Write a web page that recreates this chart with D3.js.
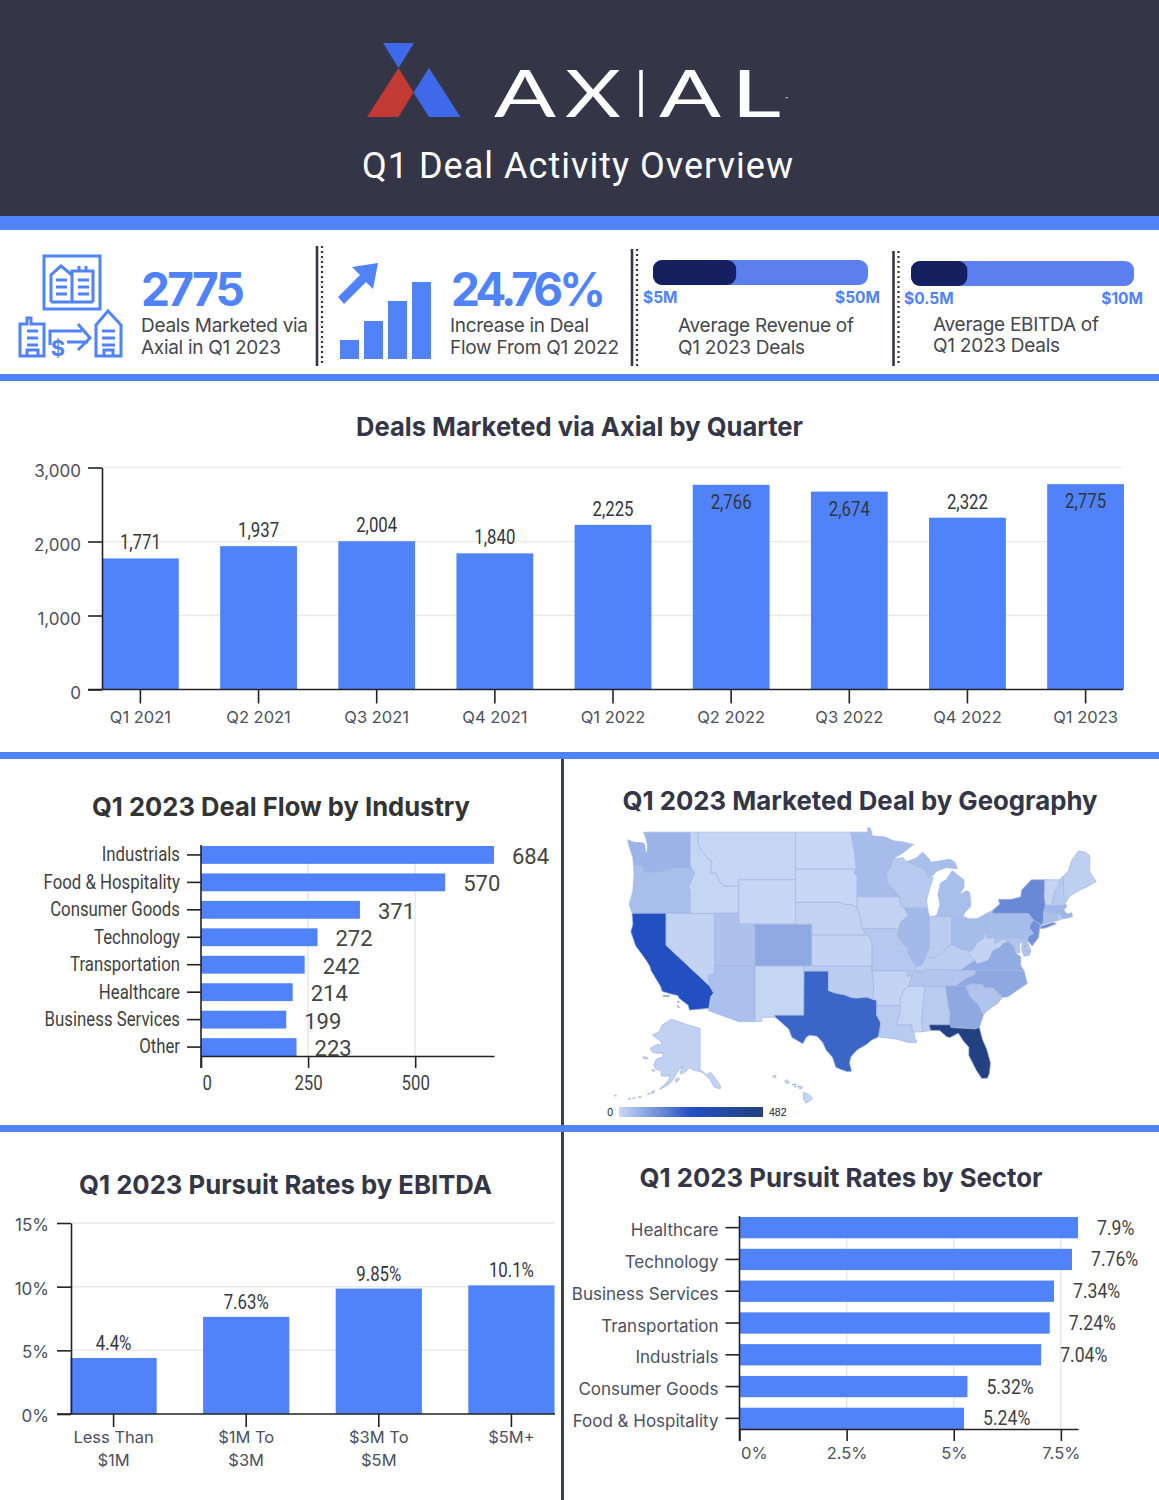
<!DOCTYPE html>
<html>
<head>
<meta charset="utf-8">
<title>Axial Q1 Deal Activity Overview</title>
<script src="https://cdn.jsdelivr.net/npm/d3@7"></script>
<style>
  body { margin: 0; background: #fff; }
  svg { display: block; }
  text { font-family: Inter, sans-serif; }
</style>
</head>
<body>
<script>
// chart values
var quarters = ['Q1 2021', 'Q2 2021', 'Q3 2021', 'Q4 2021', 'Q1 2022', 'Q2 2022', 'Q3 2022', 'Q4 2022', 'Q1 2023'];
var quarterDeals = [1771, 1937, 2004, 1840, 2225, 2766, 2674, 2322, 2775];
var quarterTicks = [0, 1000, 2000, 3000];

var industries = ['Industrials', 'Food & Hospitality', 'Consumer Goods', 'Technology', 'Transportation', 'Healthcare', 'Business Services', 'Other'];
var industryDeals = [684, 570, 371, 272, 242, 214, 199, 223];
var industryTicks = [0, 250, 500];

var ebitdaBands = ['Less Than|$1M', '$1M To|$3M', '$3M To|$5M', '$5M+'];
var ebitdaRates = [4.4, 7.63, 9.85, 10.1];
var ebitdaTicks = [0, 5, 10, 15];

var sectors = ['Healthcare', 'Technology', 'Business Services', 'Transportation', 'Industrials', 'Consumer Goods', 'Food & Hospitality'];
var sectorRates = [7.9, 7.76, 7.34, 7.24, 7.04, 5.32, 5.24];
var sectorTicks = [0, 2.5, 5, 7.5];

var revenueRange = [5, 50], revenueAvg = 22.4;
var ebitdaRange = [0.5, 10], ebitdaAvg = 2.9;

var stateCodes = ['AK','HI','WA','OR','CA','NV','ID','MT','WY','UT','CO','AZ','NM','TX','OK','KS','NE','SD','ND','MN','IA','MO','AR','LA','MS','AL','TN','KY','IL','IN','OH','MI','WI','WV','VA','NC','SC','GA','FL','PA','NY','NJ','DE','MD','CT','RI','MA','VT','NH','ME'];
var stateDeals = [12,5,64,45,241,8,5,4,3,40,83,42,5,204,20,8,10,3,3,50,10,28,8,22,5,22,30,18,55,20,50,45,25,8,80,85,35,85,482,50,140,125,30,35,45,25,60,6,25,15];
var mapLegend = [0, 241, 482];

// simplified state outlines, [lon, lat]
var stateShapes = {
  WA: [[[-122.76,49],[-117.03,49],[-117.04,46.42],[-116.92,45.995],[-118.98,46],[-119.3,45.93],[-120.5,45.7],[-121.2,45.65],[-122.2,45.58],[-122.7,45.65],[-122.9,46.1],[-123.4,46.25],[-124,46.27],[-124.1,46.9],[-124.6,47.9],[-124.73,48.38],[-123.9,48.17],[-123.1,48.15],[-122.75,48.1],[-122.6,47.9],[-122.55,47.3],[-122.35,47.4],[-122.3,47.9],[-122.5,48.5]]],
  OR: [[[-124,46.27],[-123.4,46.25],[-122.9,46.1],[-122.7,45.65],[-122.2,45.58],[-121.2,45.65],[-120.5,45.7],[-119.3,45.93],[-118.98,46],[-116.92,45.995],[-116.47,45.6],[-116.85,44.95],[-117.22,44.4],[-117.03,44],[-117.03,42],[-124.2,42],[-124.55,42.85],[-124.1,44],[-123.95,45.5]]],
  CA: [[[-124.2,42],[-120,42],[-120,39],[-114.63,35],[-114.13,34.3],[-114.5,33.9],[-114.72,32.72],[-117.12,32.53],[-117.3,33.05],[-118.4,33.75],[-118.55,34.03],[-119.2,34.15],[-120.5,34.45],[-120.65,34.9],[-121.9,36.6],[-122,36.95],[-122.5,37.6],[-122.95,38.1],[-123.75,38.95],[-124.35,40.3],[-124.1,41]],
    [[-120.4,34.05],[-119.6,34.05],[-119.6,33.93],[-120.3,33.93]], [[-118.6,33.48],[-118.35,33.4],[-118.5,33.3]], [[-118.6,33.05],[-118.35,32.8],[-118.5,32.8]]],
  NV: [[[-120,42],[-114.04,42],[-114.04,36.2],[-114.75,36.1],[-114.63,35],[-120,39]]],
  ID: [[[-117.03,49],[-116.05,49],[-116.05,48],[-115.7,47.5],[-114.7,46.7],[-114.35,46.65],[-114.5,45.55],[-113.9,45.65],[-113.45,44.95],[-113,44.45],[-111.05,44.48],[-111.05,42],[-117.03,42],[-117.03,44],[-117.22,44.4],[-116.85,44.95],[-116.47,45.6],[-116.92,45.995],[-117.04,46.42]]],
  MT: [[[-116.05,49],[-104.05,49],[-104.05,45],[-111.05,45],[-111.05,44.48],[-113,44.45],[-113.45,44.95],[-113.9,45.65],[-114.5,45.55],[-114.35,46.65],[-114.7,46.7],[-115.7,47.5],[-116.05,48]]],
  WY: [[[-111.05,45],[-104.05,45],[-104.05,41],[-111.05,41]]],
  UT: [[[-114.04,42],[-111.05,42],[-111.05,41],[-109.05,41],[-109.05,37],[-114.04,37]]],
  CO: [[[-109.05,41],[-102.05,41],[-102.05,37],[-109.05,37]]],
  AZ: [[[-114.04,37],[-109.05,37],[-109.05,31.33],[-111.07,31.33],[-114.81,32.5],[-114.72,32.72],[-114.5,33.9],[-114.13,34.3],[-114.63,35],[-114.75,36.1],[-114.04,36.2]]],
  NM: [[[-109.05,37],[-103,37],[-103.04,32],[-106.62,32],[-106.53,31.78],[-108.21,31.78],[-108.21,31.33],[-109.05,31.33]]],
  TX: [[[-106.62,32],[-103.04,32],[-103,36.5],[-100,36.5],[-100,34.56],[-99.2,34.3],[-98.1,34.13],[-97.2,33.85],[-96.5,33.78],[-95.3,33.88],[-94.48,33.64],[-94.04,33.55],[-94.04,33.02],[-94.04,32],[-93.55,31.2],[-93.7,30.3],[-93.84,29.7],[-94.7,29.35],[-95.3,28.9],[-96.4,28.35],[-97.2,27.6],[-97.4,26.9],[-97.15,25.96],[-97.6,25.9],[-98.3,26.1],[-99.1,26.4],[-99.5,27.5],[-100.3,28.3],[-100.7,29.1],[-101.4,29.77],[-102.3,29.88],[-102.7,29.7],[-103.15,28.98],[-104.5,29.65],[-104.9,30.55],[-106.53,31.78]]],
  OK: [[[-103,37],[-94.62,37],[-94.62,36.5],[-94.43,35.39],[-94.48,33.64],[-95.3,33.88],[-96.5,33.78],[-97.2,33.85],[-98.1,34.13],[-99.2,34.3],[-100,34.56],[-100,36.5],[-103,36.5]]],
  KS: [[[-102.05,40],[-95.3,40],[-94.9,39.8],[-94.61,39.1],[-94.62,37],[-102.05,37]]],
  NE: [[[-104.05,43],[-98.5,43],[-97.9,42.8],[-97.2,42.85],[-96.45,42.49],[-96.1,41.7],[-95.85,40.7],[-95.77,40.58],[-95.3,40],[-102.05,40],[-102.05,41],[-104.05,41]]],
  SD: [[[-104.05,45.94],[-96.56,45.94],[-96.85,45.6],[-96.45,45.3],[-96.45,43.5],[-96.45,42.49],[-97.2,42.85],[-97.9,42.8],[-98.5,43],[-104.05,43]]],
  ND: [[[-104.05,49],[-97.23,49],[-96.85,47.6],[-96.56,45.94],[-104.05,45.94]]],
  MN: [[[-97.23,49],[-95.15,49],[-95.15,49.38],[-94.8,49.3],[-94.6,48.7],[-93,48.6],[-92,48.3],[-90.8,48.2],[-89.5,48],[-90.8,47.3],[-92.1,46.75],[-92.3,46.1],[-92.85,45.6],[-92.75,44.75],[-91.2,43.5],[-96.45,43.5],[-96.45,45.3],[-96.85,45.6],[-96.56,45.94],[-96.85,47.6]]],
  IA: [[[-96.45,43.5],[-91.2,43.5],[-91.1,42.7],[-90.65,42.5],[-90.15,41.8],[-91.1,41.2],[-91.42,40.38],[-91.75,40.6],[-95.77,40.58],[-95.85,40.7],[-96.1,41.7],[-96.45,42.49]]],
  MO: [[[-95.77,40.58],[-91.75,40.6],[-91.42,40.38],[-91.5,40],[-90.7,39],[-90.15,38.75],[-90.2,38.3],[-89.5,37.3],[-89.15,36.98],[-89.4,36.5],[-89.7,36],[-90.37,36],[-90.1,36.5],[-94.62,36.5],[-94.62,37],[-94.61,39.1],[-94.9,39.8],[-95.3,40]]],
  AR: [[[-94.62,36.5],[-90.1,36.5],[-90.37,36],[-89.7,36],[-90.1,35],[-90.6,34.7],[-91.1,33.8],[-91.17,33],[-94.04,33.02],[-94.04,33.55],[-94.48,33.64],[-94.43,35.39]]],
  LA: [[[-94.04,33.02],[-91.17,33],[-91.1,32.5],[-91.6,31],[-89.73,31],[-89.6,30.2],[-89.4,30.05],[-89.4,29.8],[-89.1,29.1],[-90.2,29.1],[-91.3,29.4],[-92.2,29.55],[-93.84,29.7],[-93.7,30.3],[-93.55,31.2],[-94.04,32]]],
  MS: [[[-90.1,35],[-88.2,35],[-88.1,34.9],[-88.47,31.9],[-88.4,30.25],[-89.6,30.2],[-89.73,31],[-91.6,31],[-91.1,32.5],[-91.17,33],[-91.1,33.8],[-90.6,34.7]]],
  AL: [[[-88.2,35],[-85.6,35],[-85.18,32.87],[-85,32.3],[-85.05,31],[-87.6,31],[-87.4,30.4],[-88.4,30.25],[-88.47,31.9],[-88.1,34.9]]],
  TN: [[[-90.1,35],[-89.7,36],[-89.4,36.5],[-88.05,36.5],[-88.07,36.68],[-83.68,36.6],[-81.68,36.59],[-82,36.1],[-83.1,35.75],[-84.3,35],[-85.6,35],[-88.2,35]]],
  KY: [[[-89.4,36.5],[-89.15,36.98],[-88.5,37.1],[-88.05,37.8],[-87.1,37.8],[-86.3,38.1],[-85.45,38.7],[-84.8,39.1],[-84.3,38.9],[-83.7,38.65],[-82.6,38.45],[-82.6,38.1],[-81.97,37.54],[-83.68,36.6],[-88.07,36.68],[-88.05,36.5]]],
  IL: [[[-90.65,42.5],[-87.8,42.5],[-87.55,41.7],[-87.53,39.35],[-87.6,38.7],[-88.05,37.8],[-88.5,37.1],[-89.15,36.98],[-89.5,37.3],[-90.2,38.3],[-90.15,38.75],[-90.7,39],[-91.5,40],[-91.42,40.38],[-91.1,41.2],[-90.15,41.8]]],
  WI: [[[-92.1,46.75],[-90.8,46.9],[-90.4,46.55],[-88.1,45.9],[-87.6,45.1],[-87.05,45.25],[-87.5,44.3],[-87.9,43.2],[-87.8,42.5],[-90.65,42.5],[-91.1,42.7],[-91.2,43.5],[-92.75,44.75],[-92.85,45.6],[-92.3,46.1]]],
  MI: [[[-90.4,46.55],[-89.2,46.85],[-88.4,47.35],[-87.6,46.8],[-87.4,46.5],[-85,46.75],[-84.4,46.5],[-84.1,45.95],[-85.5,46.05],[-86.6,45.75],[-87.6,45.1],[-88.1,45.9]],
    [[-86.8,41.76],[-84.8,41.73],[-83.45,41.73],[-83.15,42.1],[-82.5,42.6],[-82.45,43],[-82.6,43.9],[-83,44.05],[-83.9,43.65],[-83.3,44.3],[-83.3,45],[-84.75,45.78],[-85.5,45],[-86.2,44.7],[-86.5,43.7],[-86.25,42.8],[-86.6,41.95]]],
  IN: [[[-87.53,41.72],[-86.8,41.76],[-84.8,41.73],[-84.8,39.1],[-85.45,38.7],[-86.3,38.1],[-87.1,37.8],[-88.05,37.8],[-87.6,38.7],[-87.53,39.35]]],
  OH: [[[-84.8,41.73],[-83.45,41.73],[-82.7,41.5],[-81.7,41.5],[-80.52,41.98],[-80.52,40.64],[-80.85,39.7],[-81.7,39.2],[-82.2,38.6],[-82.6,38.45],[-83.7,38.65],[-84.3,38.9],[-84.8,39.1]]],
  WV: [[[-82.6,38.1],[-82.6,38.45],[-82.2,38.6],[-81.7,39.2],[-80.85,39.7],[-80.52,40.64],[-80.52,39.72],[-79.48,39.72],[-79.48,39.2],[-78.4,39.62],[-77.75,39.32],[-78.35,39.25],[-78.9,38.8],[-79.65,38.55],[-80.3,37.55],[-81.68,37.2],[-81.97,37.54]]],
  VA: [[[-83.68,36.6],[-75.9,36.55],[-76.3,37],[-76.3,37.9],[-77,38.3],[-77.05,38.85],[-77.5,39.15],[-77.75,39.32],[-78.35,39.25],[-78.9,38.8],[-79.65,38.55],[-80.3,37.55],[-81.68,37.2],[-81.97,37.54]]],
  NC: [[[-84.3,35],[-83.1,35.75],[-82,36.1],[-81.68,36.59],[-75.9,36.55],[-75.5,35.25],[-76.5,34.7],[-77.9,33.9],[-78.55,33.86],[-79.7,34.8],[-80.8,34.82],[-81.05,35.15],[-82.3,35.2],[-83.1,35]]],
  SC: [[[-83.1,35],[-82.3,35.2],[-81.05,35.15],[-80.8,34.82],[-79.7,34.8],[-78.55,33.86],[-79.2,33.2],[-80.4,32.5],[-80.9,32.05],[-81.5,33],[-82.6,34]]],
  GA: [[[-85.6,35],[-84.3,35],[-83.1,35],[-82.6,34],[-81.5,33],[-80.9,32.05],[-81.4,30.7],[-82,30.55],[-82.2,30.57],[-84.86,30.7],[-85.05,31],[-85,32.3],[-85.18,32.87]]],
  FL: [[[-87.6,31],[-85.05,31],[-84.86,30.7],[-82.2,30.57],[-82,30.55],[-81.4,30.7],[-81,29.4],[-80.5,28.4],[-80.03,26.9],[-80.15,25.75],[-80.4,25.2],[-81.1,25.15],[-81.8,26.1],[-82.7,27.7],[-82.7,28.6],[-83.4,29.3],[-84,30.1],[-85,29.65],[-85.4,29.7],[-86.3,30.4],[-87.4,30.4]]],
  PA: [[[-80.52,41.98],[-79.76,42.27],[-79.76,42],[-75.35,42],[-74.7,41.36],[-75.1,40.95],[-75.2,40.65],[-74.72,40.15],[-75.4,39.8],[-75.79,39.72],[-79.48,39.72],[-80.52,39.72]]],
  NY: [[[-79.76,42.27],[-78.9,42.85],[-79.05,43.27],[-77.5,43.27],[-76.3,43.5],[-76.2,44.1],[-75,45],[-73.35,45],[-73.35,44.2],[-73.4,43.6],[-73.27,42.75],[-73.5,42.05],[-73.5,41.3],[-73.66,41],[-74,40.75],[-73.9,41],[-74.7,41.36],[-75.35,42],[-79.76,42]],
    [[-74,40.6],[-73.75,40.85],[-72.3,41.15],[-71.9,41.05],[-73.3,40.63]]],
  NJ: [[[-74.7,41.36],[-73.9,41],[-74,40.45],[-74.1,39.75],[-74.9,38.95],[-75.5,39.5],[-75.4,39.8],[-74.72,40.15],[-75.2,40.65],[-75.1,40.95]]],
  DE: [[[-75.79,39.72],[-75.4,39.8],[-75.5,39.4],[-75.05,38.45],[-75.7,38.46]]],
  MD: [[[-79.48,39.72],[-75.79,39.72],[-75.7,38.46],[-75.05,38.45],[-75.25,38.03],[-75.9,37.95],[-76.2,38.6],[-76.1,39.4],[-76.5,39.1],[-76.4,38.3],[-77,38.3],[-77.05,38.85],[-77.5,39.15],[-77.75,39.32],[-78.4,39.62],[-79.48,39.2]]],
  CT: [[[-73.5,42.05],[-71.8,42.02],[-71.85,41.32],[-73.66,41],[-73.5,41.3]]],
  RI: [[[-71.8,42.02],[-71.38,42.02],[-71.15,41.5],[-71.85,41.32]]],
  MA: [[[-73.5,42.05],[-73.27,42.75],[-72.45,42.73],[-71.3,42.7],[-70.85,42.87],[-70.6,42.65],[-71,42.3],[-70.6,41.95],[-70,42.05],[-69.95,41.7],[-70.65,41.55],[-71.15,41.5],[-71.38,42.02],[-71.8,42.02]]],
  VT: [[[-73.35,45],[-71.5,45],[-71.55,44.5],[-72.05,44.1],[-72.45,42.73],[-73.27,42.75],[-73.4,43.6],[-73.35,44.2]]],
  NH: [[[-71.5,45],[-71.08,45.3],[-70.98,43.4],[-70.7,43.08],[-70.85,42.87],[-71.3,42.7],[-72.45,42.73],[-72.05,44.1],[-71.55,44.5]]],
  ME: [[[-71.08,45.3],[-70.4,45.8],[-70.25,46.2],[-70,46.7],[-69.2,47.45],[-68.3,47.35],[-67.8,47.05],[-67.8,45.7],[-67.45,45.3],[-67,44.85],[-68.2,44.35],[-69,44.1],[-70.2,43.6],[-70.7,43.08],[-70.98,43.4]]],
  AK: [[[-141,69.65],[-141,60.3],[-139.5,59.9],[-137.5,58.9],[-135.5,59.7],[-133.8,58.7],[-130,55.9],[-130,54.9],[-131.5,55],[-133.5,55.5],[-135.5,57.5],[-137,58.4],[-139.7,59.6],[-142,60],[-144.5,60.2],[-146.5,60.9],[-148.5,60],[-150.5,59.3],[-151.8,59.3],[-151,60.8],[-150,61.2],[-152,60.7],[-153.5,59.5],[-154.5,58.5],[-156.5,57],[-158.5,56],[-161,55.2],[-163,54.7],[-160.5,56],[-158,57.5],[-157.2,58.7],[-159,58.6],[-162,58.7],[-162,60],[-165,60.6],[-166,61.7],[-165,62.8],[-164,63.2],[-161,63.6],[-161,64.5],[-164,64.5],[-166.5,64.6],[-168,65.6],[-164,66.5],[-162,66.2],[-162,67],[-164,67.6],[-166.7,68.4],[-163,69.1],[-161.5,70.3],[-156.6,71.35],[-152,70.85],[-148,70.4],[-144,70]],
    [[-154.6,57.5],[-152.5,58.2],[-152.2,57.6],[-153.8,56.8]], [[-171.8,63.7],[-169,63.4],[-169.8,63],[-171.6,63.3]], [[-167,60.4],[-165.2,60.3],[-165.8,59.9],[-167,60.1]],
    [[-166.9,54],[-165.5,54.3],[-166,53.6],[-167.5,53.3]], [[-169.6,53],[-168,53.6],[-168.2,53.2]], [[-174.5,52.2],[-172.8,52.4],[-173,52]], [[-177.5,51.9],[-176,52],[-176.2,51.7]], [[-180,51.6],[-178.5,51.9],[-178.7,51.5]], [[-186,52.6],[-187.5,52.9],[-187,52.5]]],
  HI: [[[-155.9,20.25],[-155.1,19.85],[-154.8,19.5],[-155.6,18.95],[-155.95,19.4]], [[-156.7,20.95],[-156.25,20.95],[-156,20.75],[-156.4,20.6]], [[-158.25,21.55],[-157.95,21.7],[-157.65,21.3],[-158.1,21.3]], [[-159.75,22.1],[-159.4,22.2],[-159.3,21.95],[-159.6,21.9]], [[-157.3,21.2],[-156.75,21.15],[-156.9,21.05],[-157.3,21.08]], [[-157.05,20.9],[-156.85,20.9],[-156.9,20.75]]]
};

var blue = '#5082f9',
  slate = '#343648',
  inkGrey = '#4c5060',
  gridGrey = '#e9e9ec';

var svg = d3.select('body').append('svg').attr('width', 1159).attr('height', 1500);

function put(g, x, y, s, size, fill, anchor, weight) {
  return g.append('text').attr('x', x).attr('y', y).text(s)
    .style('font-size', size + 'px').attr('fill', fill)
    .attr('text-anchor', anchor || 'start').style('font-weight', weight || 400);
}

// roboto squeezed horizontally, the source uses a condensed cut
function narrow(g, x, y, s, size, fill, anchor) {
  return g.append('text').attr('transform', 'translate(' + x + ',' + y + ') scale(0.84,1)').text(s)
    .style('font-family', 'Roboto').style('font-size', size + 'px').attr('fill', fill)
    .attr('text-anchor', anchor || 'middle');
}

function title(x, y, s, width, fill) {
  return put(svg, x, y, s, 26, fill || slate, 'middle', 700)
    .attr('textLength', width).attr('lengthAdjust', 'spacingAndGlyphs');
}

function styleAxis(g) {
  g.select('.domain').attr('stroke', '#222').attr('stroke-width', 1.6);
  g.selectAll('.tick line').attr('stroke', '#222').attr('stroke-width', 1.6);
  g.selectAll('.tick text').style('font-family', 'Inter').attr('fill', inkGrey);
}

// page bands
svg.append('rect').attr('width', 1159).attr('height', 216).attr('fill', slate);
[[216, 14], [374, 7], [752, 7], [1125, 7]].forEach(function (b) {
  svg.append('rect').attr('y', b[0]).attr('width', 1159).attr('height', b[1]).attr('fill', blue);
});
svg.append('rect').attr('x', 561).attr('y', 759).attr('width', 3).attr('height', 366).attr('fill', '#3b4050');
svg.append('rect').attr('x', 561).attr('y', 1132).attr('width', 3).attr('height', 368).attr('fill', '#3b4050');

// logo
var logo = svg.append('g');
logo.append('polygon').attr('points', '383,43 414,43 398.5,68').attr('fill', '#3e69ea');
logo.append('polygon').attr('points', '398.5,68 413.5,92.5 398.5,117 367,117').attr('fill', '#c23a33');
logo.append('polygon').attr('points', '429,68 460.5,117 429,117 413.5,92.5').attr('fill', '#3e69ea');
[['A', 494, 62], ['X', 565, 56], ['I', 636, 10], ['A', 659, 62], ['L', 731, 50]].forEach(function (l) {
  logo.append('text').attr('x', l[1]).attr('y', 117).text(l[0])
    .style('font-family', 'Lato').style('font-size', '66px').attr('fill', '#fff')
    .attr('textLength', l[2]).attr('lengthAdjust', 'spacingAndGlyphs');
});
put(logo, 785, 101, '™', 5, '#fff');
put(svg, 577.5, 178, 'Q1 Deal Activity Overview', 36, '#fff', 'middle', 400)
  .style('font-family', 'Roboto').attr('textLength', 431).attr('lengthAdjust', 'spacing');

// kpi strip
var kpi = svg.append('g');
function divider(x, y0, y1) {
  kpi.append('line').attr('x1', x).attr('x2', x).attr('y1', y0).attr('y2', y1).attr('stroke', '#343648').attr('stroke-width', 2.6);
  kpi.append('line').attr('x1', x + 5).attr('x2', x + 5).attr('y1', y0).attr('y2', y1)
    .attr('stroke', '#343648').attr('stroke-width', 2.2).attr('stroke-dasharray', '2 3');
}
divider(317, 246, 366);
divider(632, 249, 366);
divider(893.5, 251, 366);

put(kpi, 141, 306, '2775', 46, blue, 'start', 700).attr('textLength', 104);
put(kpi, 141, 332, 'Deals Marketed via', 19, '#45464f').attr('textLength', 167);
put(kpi, 141, 354, 'Axial in Q1 2023', 19, '#45464f').attr('textLength', 140);
put(kpi, 451, 306, '24.76%', 46, blue, 'start', 700).attr('textLength', 155);
put(kpi, 450, 332, 'Increase in Deal', 19, '#45464f').attr('textLength', 139);
put(kpi, 450, 354, 'Flow From Q1 2022', 19, '#45464f').attr('textLength', 169);
put(kpi, 678, 332, 'Average Revenue of', 19, '#45464f').attr('textLength', 176);
put(kpi, 678, 354, 'Q1 2023 Deals', 19, '#45464f').attr('textLength', 127);
put(kpi, 933, 331, 'Average EBITDA of', 19, '#45464f').attr('textLength', 166);
put(kpi, 933, 352, 'Q1 2023 Deals', 19, '#45464f').attr('textLength', 127);

// range gauges
function gauge(x0, x1, y, range, value, lowLabel, highLabel, lowX, highX) {
  var scale = d3.scaleLinear().domain(range).range([x0, x1]);
  kpi.append('rect').attr('x', x0).attr('y', y).attr('width', x1 - x0).attr('height', 25).attr('rx', 9).attr('fill', '#5b7fee');
  kpi.append('rect').attr('x', x0).attr('y', y).attr('width', scale(value) - x0).attr('height', 25).attr('rx', 9).attr('fill', '#152060');
  put(kpi, lowX, y + 43, lowLabel, 15.5, blue, 'start', 700);
  put(kpi, highX, y + 43, highLabel, 15.5, blue, 'end', 700);
}
gauge(653, 868, 260, revenueRange, revenueAvg, '$5M', '$50M', 643, 880);
gauge(911, 1134, 261, ebitdaRange, ebitdaAvg, '$0.5M', '$10M', 904, 1143);

// deals icon
var icon = kpi.append('g').attr('fill', 'none').attr('stroke', blue).attr('stroke-width', 3);
icon.append('rect').attr('x', 44).attr('y', 256).attr('width', 56).attr('height', 53);
icon.append('path').attr('d', 'M51 302V275L61 266L72 275V302M72 302V271H79V266M79 271H86V266M86 271H93V302M51 302H93');
icon.append('path').attr('d', 'M56 280H67M56 287H67M56 294H67M78 280H89M78 287H89M78 294H89');
icon.append('path').attr('d', 'M20 356V324H27V318H31V324H44V356ZM27 331H38M27 338H38M27 345H38M27 356V350H38V356');
icon.append('path').attr('d', 'M96 356V325L108 311L121 325V356ZM102 331H115M102 338H115M102 345H115M104 356V350H113V356');
icon.append('path').attr('d', 'M50 345V331H82M78 324L90 338L78 350M67 342H88');
put(kpi, 58, 356, '$', 22, blue, 'middle', 700);

// growth icon
kpi.append('polygon').attr('points', '378,263 352,267 360,275 338,297 344,304 366,282 373,289').attr('fill', blue);
[[340, 340], [364, 321], [388, 301], [412, 282]].forEach(function (b) {
  kpi.append('rect').attr('x', b[0]).attr('y', b[1]).attr('width', 19).attr('height', 359 - b[1]).attr('fill', blue);
});

// quarterly bars
title(579.5, 436, 'Deals Marketed via Axial by Quarter', 447);
var q = svg.append('g');
var qx = d3.scaleBand().domain(quarters).range([102, 1124]).paddingInner(0.35);
var qy = d3.scaleLinear().domain([0, 3000]).range([689.5, 467.5]);
q.append('g').selectAll('line').data(quarterTicks.slice(1)).join('line')
  .attr('x1', 102).attr('x2', 1123).attr('y1', qy).attr('y2', qy).attr('stroke', gridGrey).attr('stroke-width', 1.5);
q.selectAll('rect').data(quarterDeals).join('rect')
  .attr('x', function (d, i) { return qx(quarters[i]); }).attr('width', qx.bandwidth())
  .attr('y', qy).attr('height', function (d) { return 689.5 - qy(d); }).attr('fill', blue);
var qAxisY = q.append('g').attr('transform', 'translate(102,0)')
  .call(d3.axisLeft(qy).tickValues(quarterTicks).tickFormat(d3.format(',')).tickSize(14).tickPadding(7).tickSizeOuter(0));
styleAxis(qAxisY);
qAxisY.selectAll('text').style('font-size', '17px').attr('dy', '0.5em');
var qAxisX = q.append('g').attr('transform', 'translate(0,689.5)')
  .call(d3.axisBottom(qx).tickSize(14).tickPadding(8).tickSizeOuter(0));
styleAxis(qAxisX);
qAxisX.select('.domain').attr('d', 'M88,0H1123');
qAxisX.selectAll('text').style('font-size', '16.5px');
quarterDeals.forEach(function (d, i) {
  var x = qx(quarters[i]) + qx.bandwidth() / 2;
  narrow(q, x, d > 2600 ? qy(d) + 24 : qy(d) - 9, d3.format(',')(d), 20, '#33363f');
});

// horizontal bars, shared by industry and sector panels
function hbars(opt) {
  var g = svg.append('g');
  var x = d3.scaleLinear().domain(opt.domain).range(opt.xRange);
  var y = d3.scaleBand().domain(opt.names).range(opt.yRange).paddingInner(opt.pad);
  var base = opt.yRange[1], left = opt.xRange[0];
  g.append('g').selectAll('line').data(opt.ticks.slice(1)).join('line')
    .attr('x1', x).attr('x2', x).attr('y1', opt.yRange[0]).attr('y2', base).attr('stroke', gridGrey).attr('stroke-width', 1.5);
  g.selectAll('rect').data(opt.values).join('rect')
    .attr('x', left).attr('y', function (d, i) { return y(opt.names[i]); })
    .attr('width', function (d) { return x(d) - left; }).attr('height', y.bandwidth()).attr('fill', blue);
  var ay = g.append('g').attr('transform', 'translate(' + left + ',0)')
    .call(d3.axisLeft(y).tickSize(14).tickPadding(opt.catPad).tickSizeOuter(0));
  styleAxis(ay);
  ay.select('.domain').attr('d', 'M0,' + (opt.yRange[0] - 1) + 'V' + (base + 12));
  var ax = g.append('g').attr('transform', 'translate(0,' + base + ')')
    .call(d3.axisBottom(x).tickValues(opt.ticks).tickFormat(opt.tickFormat).tickSize(12).tickPadding(opt.tickPad).tickSizeOuter(0));
  styleAxis(ax);
  ax.selectAll('.tick').filter(function (d) { return d === 0; }).select('text').attr('text-anchor', 'start').attr('x', 1);
  opt.values.forEach(function (d, i) {
    opt.valueLabel(g, x(d) + opt.valueGap, y(opt.names[i]) + y.bandwidth() / 2, d);
  });
  return { yAxis: ay, xAxis: ax };
}

title(281, 816, 'Q1 2023 Deal Flow by Industry', 378, '#333');
var ind = hbars({
  names: industries, values: industryDeals, domain: [0, 684], xRange: [201, 494], yRange: [846, 1056],
  pad: 0.35, ticks: industryTicks, tickFormat: d3.format('d'), catPad: 7, tickPad: 8, valueGap: 18,
  valueLabel: function (g, x, y, d) {
    put(g, x, y + 9, d, 22, '#444', 'start').style('font-family', 'Roboto');
  }
});
ind.yAxis.selectAll('.tick text').style('font-family', 'Roboto').style('font-size', '20px').attr('fill', '#3f3f44')
  .attr('x', -21 / 0.84).attr('transform', 'scale(0.84,1)');
ind.xAxis.selectAll('.tick text').style('font-family', 'Roboto').style('font-size', '20px').attr('fill', '#3f3f44');
ind.xAxis.selectAll('.tick text').each(function () {
  d3.select(this).attr('transform', 'scale(0.84,1)');
  d3.select(this).attr('x', (+d3.select(this).attr('x') || 0) / 0.84);
});

title(841, 1187, 'Q1 2023 Pursuit Rates by Sector', 403);
var sec = hbars({
  names: sectors, values: sectorRates, domain: [0, 7.9], xRange: [739.5, 1078], yRange: [1217, 1429],
  pad: 0.33, ticks: sectorTicks, tickFormat: function (d) { return d + '%'; }, catPad: 7, tickPad: 6, valueGap: 19,
  valueLabel: function (g, x, y, d) {
    narrow(g, x, y + 7, d + '%', 21, '#3f3f44', 'start');
  }
});
sec.yAxis.selectAll('.tick text').style('font-size', '17px').attr('dy', '0.5em');
sec.xAxis.selectAll('.tick text').style('font-size', '16.5px');

// ebitda bars
title(285.5, 1194, 'Q1 2023 Pursuit Rates by EBITDA', 413);
var e = svg.append('g');
var ex = d3.scaleBand().domain(ebitdaBands).range([70.5, 554.5]).paddingInner(0.35);
var ey = d3.scaleLinear().domain([0, 15]).range([1414, 1223]);
e.append('g').selectAll('line').data(ebitdaTicks.slice(1)).join('line')
  .attr('x1', 71).attr('x2', 555).attr('y1', ey).attr('y2', ey).attr('stroke', gridGrey).attr('stroke-width', 1.5);
e.selectAll('rect').data(ebitdaRates).join('rect')
  .attr('x', function (d, i) { return ex(ebitdaBands[i]); }).attr('width', ex.bandwidth())
  .attr('y', ey).attr('height', function (d) { return 1414 - ey(d); }).attr('fill', blue);
var eAxisY = e.append('g').attr('transform', 'translate(71,0)')
  .call(d3.axisLeft(ey).tickValues(ebitdaTicks).tickFormat(function (d) { return d + '%'; }).tickSize(14).tickPadding(8).tickSizeOuter(0));
styleAxis(eAxisY);
eAxisY.selectAll('text').style('font-size', '17px').attr('dy', '0.45em');
var eAxisX = e.append('g').attr('transform', 'translate(0,1414)')
  .call(d3.axisBottom(ex).tickSize(13).tickFormat('').tickSizeOuter(0));
styleAxis(eAxisX);
eAxisX.select('.domain').attr('d', 'M57,0H555');
ebitdaBands.forEach(function (b, i) {
  var x = ex(b) + ex.bandwidth() / 2;
  b.split('|').forEach(function (line, j) {
    put(e, x, 1443 + j * 23, line, 16.5, inkGrey, 'middle');
  });
  narrow(e, x, ey(ebitdaRates[i]) - 8, ebitdaRates[i] + '%', 20, '#33363f');
});

// map, all mercator like the source: lower 48, alaska and hawaii insets
title(860, 810, 'Q1 2023 Marketed Deal by Geography', 475);
var main48 = d3.geoMercator().scale(465).translate([1640, 1289.6]);
var alaskaProj = d3.geoMercator().rotate([150, 0]).scale(106).translate([683.4, 1210.7]);
var hawaiiProj = d3.geoMercator().scale(465).translate([2069, 1260]);
var shade = d3.scaleLinear().domain(mapLegend).range(['#c8d8f5', '#2350c0', '#234080']);

var map = svg.append('g');
stateCodes.forEach(function (code, i) {
  var proj = code === 'AK' ? alaskaProj : code === 'HI' ? hawaiiProj : main48;
  var d = stateShapes[code].map(function (ring) {
    return d3.line()(ring.map(function (p) { return proj(p); })) + 'Z';
  }).join('');
  map.append('path').attr('d', d).attr('fill', shade(stateDeals[i]))
    .attr('stroke', '#a3b6e2').attr('stroke-width', 0.7).attr('stroke-linejoin', 'round');
});

var grad = svg.append('defs').append('linearGradient').attr('id', 'legendRamp');
mapLegend.forEach(function (v) {
  grad.append('stop').attr('offset', v / 482).attr('stop-color', shade(v));
});
var legendX = d3.scaleLinear().domain([0, 482]).range([619, 763]);
svg.append('rect').attr('x', legendX(0)).attr('y', 1107).attr('width', legendX(482) - legendX(0)).attr('height', 10).attr('fill', 'url(#legendRamp)');
put(svg, 613, 1115.5, mapLegend[0], 10.5, '#222', 'end').style('font-family', 'Liberation Sans');
put(svg, 769, 1115.5, mapLegend[2], 10.5, '#222', 'start').style('font-family', 'Liberation Sans');
</script>
</body>
</html>
